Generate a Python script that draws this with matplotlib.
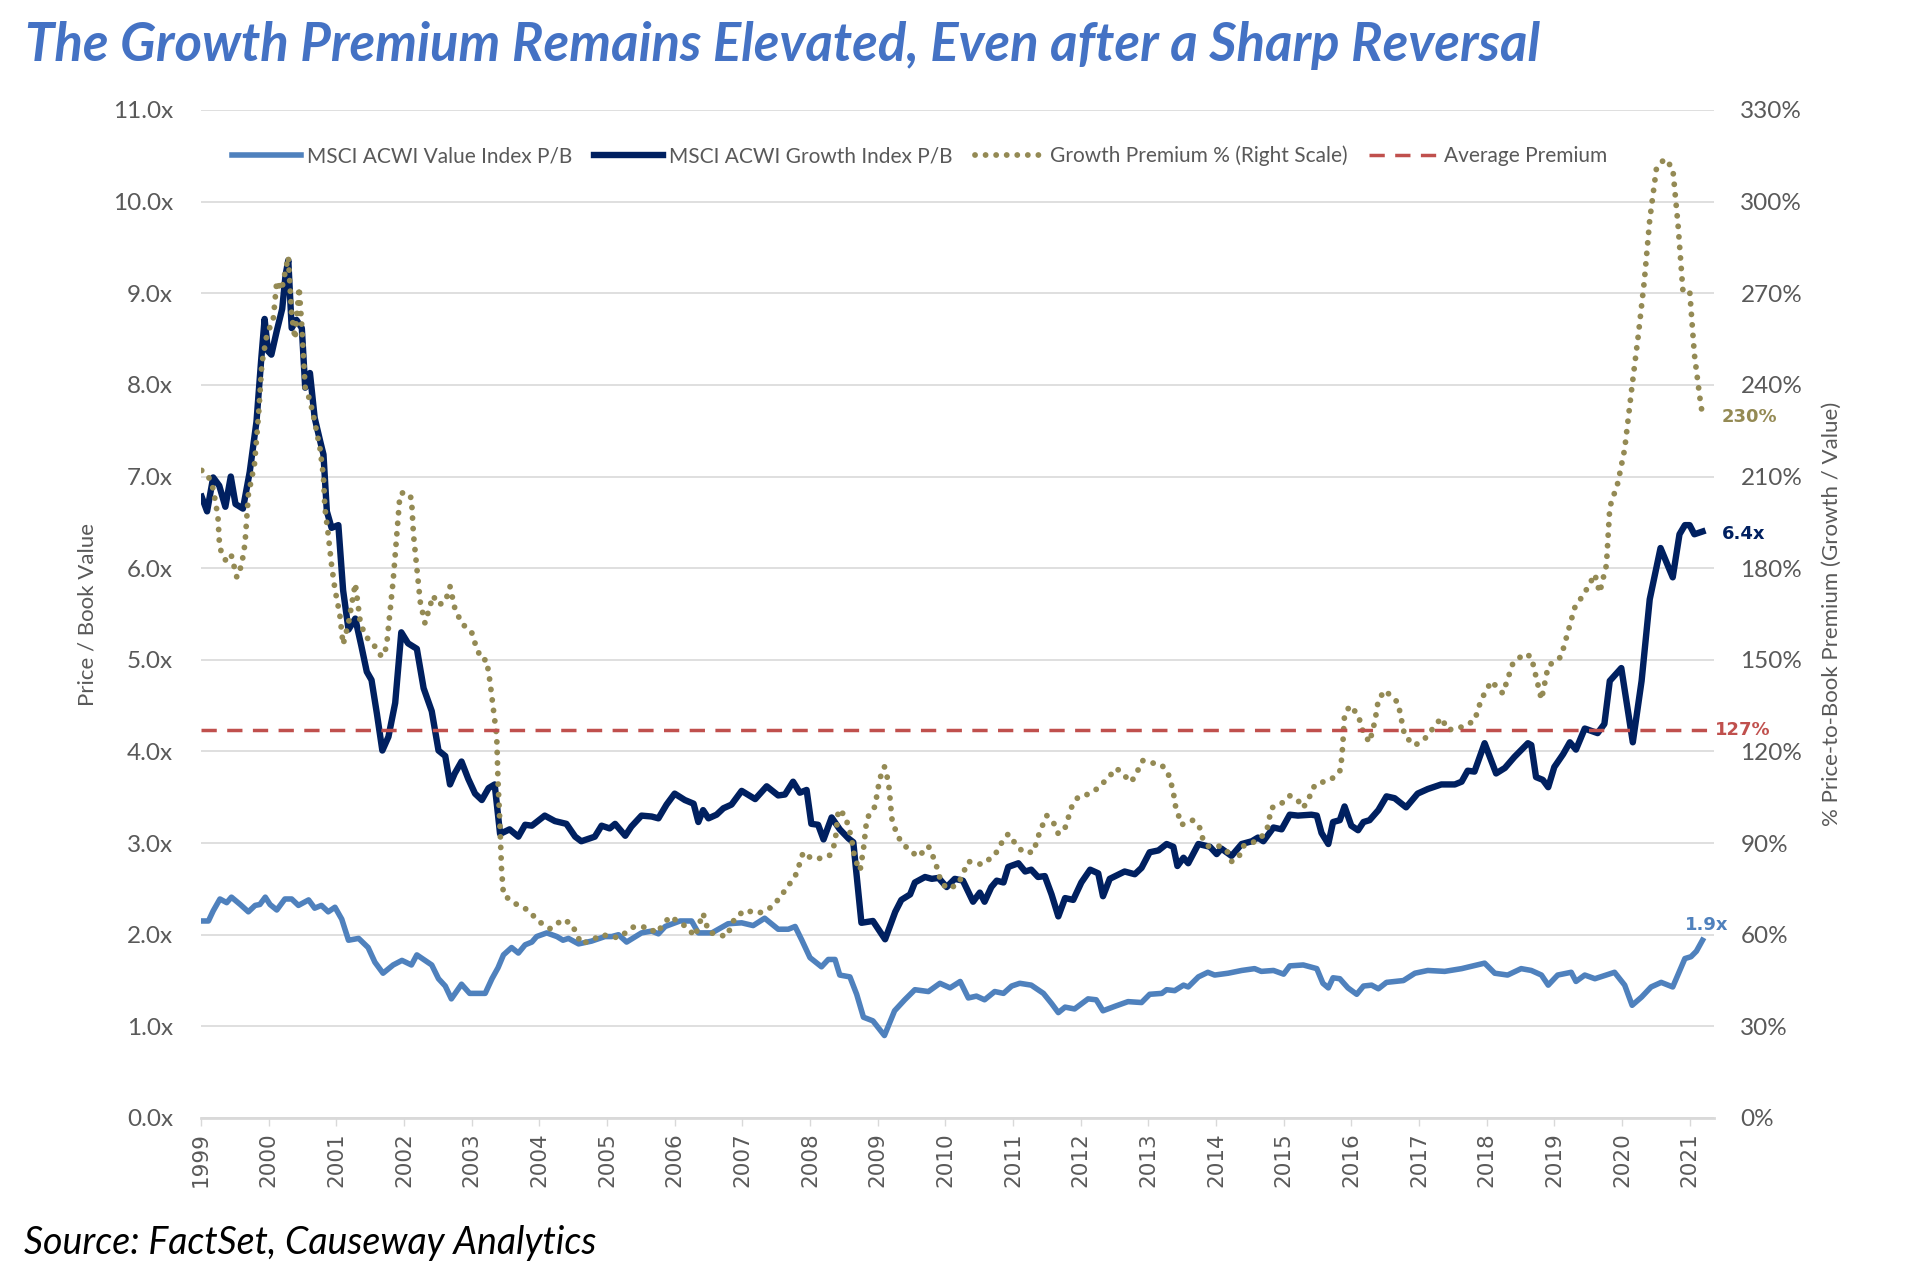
import matplotlib.pyplot as plt

# colours taken from the chart
GROWTH_C = '#002060'
VALUE_C = '#4F81BD'
PREM_C = '#948A54'
AVG_C = '#C0504D'
GREY = '#595959'
GRID_C = '#D9D9D9'

title = 'The Growth Premium Remains Elevated, Even after a Sharp Reversal'
source = 'Source: FactSet, Causeway Analytics'

years = list(range(1999, 2022))
left_ticks = list(range(0, 12))
right_ticks = list(range(0, 331, 30))
avg_premium = 127

# (decimal year, P/B)
growth_pb = [
    (1999.01, 6.78), (1999.09, 6.62), (1999.18, 6.99), (1999.27, 6.90), (1999.36, 6.67),
    (1999.44, 7.00), (1999.51, 6.70), (1999.62, 6.65), (1999.72, 7.05), (1999.82, 7.60),
    (1999.89, 8.28), (1999.94, 8.72), (1999.99, 8.37), (2000.04, 8.33), (2000.12, 8.59),
    (2000.20, 8.83), (2000.25, 9.20), (2000.29, 9.36), (2000.34, 8.62), (2000.41, 8.71),
    (2000.49, 8.62), (2000.54, 7.97), (2000.61, 8.13), (2000.68, 7.64), (2000.76, 7.39),
    (2000.81, 7.24), (2000.86, 6.62), (2000.93, 6.44), (2001.03, 6.47), (2001.10, 5.76),
    (2001.18, 5.33), (2001.28, 5.45), (2001.37, 5.15), (2001.45, 4.87), (2001.52, 4.78),
    (2001.60, 4.41), (2001.68, 4.01), (2001.77, 4.16), (2001.87, 4.53), (2001.96, 5.30),
    (2002.06, 5.18), (2002.19, 5.12), (2002.29, 4.69), (2002.41, 4.44), (2002.51, 4.01),
    (2002.61, 3.95), (2002.68, 3.64), (2002.75, 3.76), (2002.85, 3.89), (2002.95, 3.70),
    (2003.05, 3.54), (2003.15, 3.47), (2003.25, 3.60), (2003.34, 3.64), (2003.42, 3.10),
    (2003.56, 3.15), (2003.69, 3.07), (2003.79, 3.20), (2003.89, 3.19), (2004.08, 3.30),
    (2004.23, 3.24), (2004.40, 3.21), (2004.53, 3.07), (2004.62, 3.02), (2004.82, 3.07),
    (2004.92, 3.19), (2005.04, 3.16), (2005.12, 3.21), (2005.27, 3.08), (2005.36, 3.18),
    (2005.51, 3.30), (2005.66, 3.29), (2005.76, 3.27), (2005.88, 3.42), (2006.00, 3.54),
    (2006.15, 3.47), (2006.28, 3.43), (2006.35, 3.23), (2006.42, 3.36), (2006.50, 3.27),
    (2006.62, 3.31), (2006.72, 3.38), (2006.84, 3.42), (2006.99, 3.57), (2007.19, 3.48),
    (2007.36, 3.62), (2007.53, 3.52), (2007.63, 3.53), (2007.75, 3.67), (2007.85, 3.55),
    (2007.95, 3.58), (2008.02, 3.21), (2008.12, 3.20), (2008.20, 3.04), (2008.32, 3.28),
    (2008.44, 3.15), (2008.57, 3.05), (2008.64, 3.01), (2008.76, 2.13), (2008.93, 2.15),
    (2009.11, 1.95), (2009.26, 2.25), (2009.35, 2.38), (2009.48, 2.44), (2009.55, 2.57),
    (2009.70, 2.63), (2009.80, 2.61), (2009.90, 2.62), (2010.02, 2.52), (2010.14, 2.61),
    (2010.26, 2.59), (2010.41, 2.36), (2010.51, 2.46), (2010.58, 2.36), (2010.68, 2.52),
    (2010.76, 2.59), (2010.86, 2.57), (2010.93, 2.74), (2011.08, 2.78), (2011.18, 2.69),
    (2011.27, 2.71), (2011.37, 2.63), (2011.47, 2.64), (2011.57, 2.44), (2011.67, 2.20),
    (2011.77, 2.40), (2011.89, 2.38), (2012.01, 2.57), (2012.14, 2.71), (2012.26, 2.67),
    (2012.33, 2.42), (2012.43, 2.61), (2012.65, 2.69), (2012.80, 2.66), (2012.90, 2.73),
    (2013.02, 2.90), (2013.15, 2.92), (2013.27, 2.99), (2013.37, 2.96), (2013.43, 2.75),
    (2013.52, 2.84), (2013.59, 2.78), (2013.74, 2.99), (2013.91, 2.96), (2014.01, 2.88),
    (2014.08, 2.94), (2014.23, 2.86), (2014.38, 2.99), (2014.53, 3.02), (2014.62, 3.06),
    (2014.70, 3.02), (2014.77, 3.09), (2014.85, 3.17), (2014.97, 3.15), (2015.09, 3.31),
    (2015.21, 3.30), (2015.41, 3.31), (2015.49, 3.30), (2015.56, 3.11), (2015.66, 2.99),
    (2015.73, 3.23), (2015.83, 3.25), (2015.90, 3.40), (2016.00, 3.19), (2016.10, 3.14),
    (2016.18, 3.23), (2016.27, 3.25), (2016.40, 3.36), (2016.52, 3.51), (2016.64, 3.49),
    (2016.81, 3.39), (2016.98, 3.54), (2017.13, 3.59), (2017.33, 3.64), (2017.53, 3.64),
    (2017.63, 3.67), (2017.72, 3.79), (2017.82, 3.78), (2017.97, 4.09), (2018.14, 3.76),
    (2018.27, 3.82), (2018.41, 3.94), (2018.61, 4.09), (2018.66, 4.07), (2018.73, 3.72),
    (2018.83, 3.69), (2018.91, 3.61), (2019.00, 3.83), (2019.13, 3.97), (2019.23, 4.10),
    (2019.32, 4.02), (2019.45, 4.25), (2019.64, 4.20), (2019.74, 4.30), (2019.82, 4.77),
    (2019.99, 4.91), (2020.09, 4.43), (2020.16, 4.10), (2020.29, 4.77), (2020.41, 5.66),
    (2020.57, 6.22), (2020.75, 5.90), (2020.85, 6.37), (2020.93, 6.47), (2021.00, 6.47),
    (2021.07, 6.37), (2021.19, 6.40),
]

value_pb = [
    (1999.01, 2.15), (1999.11, 2.15), (1999.18, 2.26), (1999.28, 2.39), (1999.38, 2.35),
    (1999.45, 2.41), (1999.58, 2.33), (1999.70, 2.25), (1999.80, 2.32), (1999.87, 2.33),
    (1999.95, 2.41), (2000.02, 2.33), (2000.12, 2.27), (2000.24, 2.39), (2000.34, 2.39),
    (2000.44, 2.32), (2000.59, 2.38), (2000.68, 2.29), (2000.78, 2.32), (2000.88, 2.25),
    (2000.98, 2.30), (2001.08, 2.17), (2001.18, 1.94), (2001.33, 1.96), (2001.47, 1.86),
    (2001.57, 1.70), (2001.69, 1.58), (2001.84, 1.67), (2001.97, 1.72), (2002.11, 1.67),
    (2002.19, 1.78), (2002.31, 1.72), (2002.41, 1.67), (2002.51, 1.52), (2002.61, 1.44),
    (2002.70, 1.30), (2002.85, 1.46), (2002.97, 1.36), (2003.10, 1.36), (2003.20, 1.36),
    (2003.30, 1.52), (2003.39, 1.64), (2003.47, 1.78), (2003.59, 1.86), (2003.69, 1.80),
    (2003.79, 1.89), (2003.89, 1.92), (2003.96, 1.98), (2004.11, 2.02), (2004.26, 1.98),
    (2004.35, 1.94), (2004.43, 1.96), (2004.58, 1.90), (2004.77, 1.93), (2004.97, 1.98),
    (2005.07, 1.98), (2005.17, 2.00), (2005.29, 1.92), (2005.51, 2.02), (2005.66, 2.04),
    (2005.76, 2.01), (2005.86, 2.09), (2006.08, 2.15), (2006.25, 2.15), (2006.35, 2.02),
    (2006.55, 2.02), (2006.79, 2.12), (2006.99, 2.13), (2007.16, 2.10), (2007.33, 2.18),
    (2007.53, 2.06), (2007.68, 2.06), (2007.78, 2.09), (2007.88, 1.94), (2008.00, 1.75),
    (2008.17, 1.65), (2008.27, 1.73), (2008.37, 1.73), (2008.44, 1.56), (2008.59, 1.54),
    (2008.69, 1.35), (2008.79, 1.10), (2008.93, 1.06), (2009.10, 0.90), (2009.25, 1.17),
    (2009.40, 1.29), (2009.55, 1.40), (2009.75, 1.38), (2009.92, 1.47), (2010.07, 1.42),
    (2010.22, 1.49), (2010.34, 1.31), (2010.46, 1.33), (2010.58, 1.29), (2010.73, 1.38),
    (2010.86, 1.36), (2010.98, 1.44), (2011.10, 1.47), (2011.27, 1.45), (2011.45, 1.36),
    (2011.57, 1.25), (2011.67, 1.15), (2011.77, 1.21), (2011.91, 1.19), (2012.11, 1.30),
    (2012.23, 1.29), (2012.33, 1.17), (2012.51, 1.22), (2012.70, 1.27), (2012.90, 1.26),
    (2013.02, 1.35), (2013.20, 1.36), (2013.27, 1.40), (2013.39, 1.39), (2013.52, 1.45),
    (2013.59, 1.43), (2013.74, 1.54), (2013.88, 1.59), (2013.98, 1.56), (2014.18, 1.58),
    (2014.38, 1.61), (2014.57, 1.63), (2014.67, 1.60), (2014.85, 1.61), (2015.00, 1.57),
    (2015.09, 1.66), (2015.29, 1.67), (2015.49, 1.63), (2015.58, 1.47), (2015.66, 1.42),
    (2015.73, 1.53), (2015.83, 1.52), (2015.95, 1.42), (2016.08, 1.35), (2016.18, 1.44),
    (2016.30, 1.45), (2016.40, 1.41), (2016.52, 1.48), (2016.77, 1.50), (2016.94, 1.58),
    (2017.13, 1.61), (2017.38, 1.60), (2017.63, 1.63), (2017.97, 1.69), (2018.12, 1.58),
    (2018.31, 1.56), (2018.51, 1.63), (2018.66, 1.61), (2018.81, 1.56), (2018.91, 1.45),
    (2019.05, 1.56), (2019.25, 1.59), (2019.32, 1.49), (2019.45, 1.56), (2019.60, 1.52),
    (2019.89, 1.59), (2020.04, 1.45), (2020.15, 1.23), (2020.29, 1.32), (2020.43, 1.43),
    (2020.58, 1.48), (2020.75, 1.43), (2020.93, 1.74), (2021.02, 1.76), (2021.10, 1.82),
    (2021.19, 1.94),
]

# (decimal year, growth premium %)
premium_pct = [
    (1999.01, 212), (1999.11, 210), (1999.18, 206), (1999.25, 197), (1999.27, 189),
    (1999.30, 185), (1999.38, 182), (1999.45, 184), (1999.53, 177), (1999.60, 181),
    (1999.65, 188), (1999.70, 204), (1999.79, 214), (1999.85, 230), (1999.90, 247),
    (1999.97, 256), (2000.07, 262), (2000.12, 274), (2000.19, 271), (2000.29, 282),
    (2000.34, 263), (2000.39, 255), (2000.45, 272), (2000.49, 259), (2000.54, 239),
    (2000.61, 235), (2000.68, 228), (2000.76, 219), (2000.81, 210), (2000.83, 200),
    (2000.88, 191), (2000.93, 181), (2000.98, 173), (2001.05, 165), (2001.10, 155),
    (2001.18, 162), (2001.28, 175), (2001.35, 163), (2001.42, 158), (2001.55, 155),
    (2001.67, 151), (2001.74, 154), (2001.79, 165), (2001.84, 176), (2001.89, 190),
    (2001.94, 204), (2002.00, 205), (2002.11, 203), (2002.14, 191), (2002.19, 180),
    (2002.24, 169), (2002.31, 162), (2002.43, 171), (2002.51, 168), (2002.61, 169),
    (2002.68, 174), (2002.75, 167), (2002.85, 162), (2003.00, 159), (2003.07, 154),
    (2003.15, 150), (2003.22, 150), (2003.27, 143), (2003.32, 134), (2003.37, 125),
    (2003.39, 110), (2003.42, 95), (2003.44, 82), (2003.47, 73), (2003.66, 70),
    (2003.84, 68), (2003.98, 64.5), (2004.16, 62), (2004.35, 65), (2004.48, 63.5),
    (2004.62, 57), (2004.80, 58.5), (2004.92, 60), (2005.17, 59), (2005.39, 62.5),
    (2005.61, 62.5), (2005.73, 60.5), (2005.93, 66), (2006.18, 62.5), (2006.30, 59.5),
    (2006.42, 67), (2006.50, 61), (2006.62, 60), (2006.77, 59.5), (2006.89, 65.5),
    (2007.04, 68), (2007.24, 67), (2007.43, 69), (2007.53, 71.5), (2007.68, 76),
    (2007.80, 80), (2007.90, 87), (2008.02, 85), (2008.17, 85), (2008.29, 86),
    (2008.37, 90), (2008.42, 101), (2008.52, 99), (2008.61, 92), (2008.66, 85),
    (2008.74, 81), (2008.79, 88), (2008.84, 98), (2008.96, 102), (2009.03, 111),
    (2009.10, 115), (2009.16, 110), (2009.21, 98), (2009.26, 94.5), (2009.33, 91),
    (2009.45, 88), (2009.60, 85.5), (2009.75, 89), (2009.85, 84), (2009.94, 77),
    (2010.04, 75), (2010.19, 76.5), (2010.34, 84), (2010.54, 83), (2010.73, 86),
    (2010.83, 90), (2010.93, 93), (2011.03, 90), (2011.15, 87), (2011.30, 87),
    (2011.40, 94), (2011.50, 99), (2011.62, 96), (2011.67, 93), (2011.77, 95),
    (2011.87, 102), (2011.96, 105), (2012.11, 106), (2012.26, 108), (2012.43, 112),
    (2012.53, 114.5), (2012.65, 112), (2012.75, 110), (2012.85, 114), (2012.92, 117),
    (2013.20, 115.5), (2013.29, 113), (2013.37, 107), (2013.39, 103), (2013.49, 96),
    (2013.66, 97.5), (2013.76, 95), (2013.81, 91), (2013.88, 89), (2014.06, 89),
    (2014.16, 87.5), (2014.23, 84), (2014.33, 85), (2014.40, 89), (2014.53, 90),
    (2014.65, 91.5), (2014.75, 94), (2014.82, 101.5), (2014.97, 103), (2015.09, 105.5),
    (2015.21, 104), (2015.29, 101.5), (2015.39, 105.5), (2015.46, 109), (2015.58, 110),
    (2015.71, 111), (2015.83, 113.5), (2015.86, 118), (2015.88, 124.5), (2015.90, 132),
    (2015.98, 135), (2016.10, 132), (2016.18, 126), (2016.27, 123), (2016.35, 130),
    (2016.40, 137), (2016.50, 140), (2016.59, 138), (2016.69, 136), (2016.79, 125),
    (2016.94, 122), (2017.08, 124), (2017.33, 131), (2017.43, 127), (2017.63, 128),
    (2017.82, 130), (2017.92, 137), (2018.07, 143), (2018.24, 139), (2018.39, 149),
    (2018.56, 152), (2018.66, 151), (2018.81, 137), (2018.91, 148), (2019.10, 151),
    (2019.30, 167), (2019.45, 172), (2019.60, 178), (2019.67, 172), (2019.77, 181),
    (2019.82, 200), (2019.94, 208), (2020.04, 219), (2020.14, 238), (2020.24, 256),
    (2020.33, 274), (2020.41, 294), (2020.51, 311), (2020.63, 314), (2020.75, 311),
    (2020.83, 292), (2020.90, 271), (2021.00, 271), (2021.07, 250), (2021.15, 236),
    (2021.19, 230),
]

gx, gy = zip(*growth_pb)
vx, vy = zip(*value_pb)
px, py = zip(*premium_pct)

plt.rcParams['font.family'] = 'Lato'

W, H = 1911, 1271
fig = plt.figure(figsize=(W / 100, H / 100), dpi=100)
ax = fig.add_axes([201 / W, 1 - 1118 / H, (1714 - 201) / W, (1118 - 110) / H])
ax2 = ax.twinx()

ax.plot(vx, vy, color=VALUE_C, lw=4.0, solid_joinstyle='round', zorder=3,
        label='MSCI ACWI Value Index P/B')
ax.plot(gx, gy, color=GROWTH_C, lw=4.6, solid_joinstyle='round', zorder=4,
        label='MSCI ACWI Growth Index P/B')
ax2.plot(px, py, color=PREM_C, lw=4.2, linestyle=(0, (0.01, 1.8)),
         dash_capstyle='round', label='Growth Premium % (Right Scale)')
ax2.axhline(avg_premium, color=AVG_C, lw=2.5, linestyle=(0, (4.4, 3.0)),
            label='Average Premium')

ax.set_xlim(1999.0, 2021.36)
ax.set_ylim(0, 11)
ax2.set_ylim(0, 330)

ax.set_yticks(left_ticks)
ax.set_yticklabels([f'{v:.1f}x' for v in left_ticks])
ax2.set_yticks(right_ticks)
ax2.set_yticklabels([f'{v}%' for v in right_ticks])
ax.tick_params(axis='y', length=0, pad=20, labelsize=17.5, labelcolor=GREY)
ax2.tick_params(axis='y', length=0, pad=19, labelsize=17.5, labelcolor=GREY)

ax.set_xticks(years)
ax.set_xticklabels([str(y) for y in years], rotation=90, family='DejaVu Sans',
                   fontsize=15.5, color=GREY)
ax.tick_params(axis='x', length=6, width=1, color=GRID_C, pad=4)

ax.grid(axis='y', color=GRID_C, lw=1.2)
ax.set_axisbelow(True)
for a in (ax, ax2):
    for s in a.spines.values():
        s.set_visible(False)
ax.spines['bottom'].set_visible(True)
ax.spines['bottom'].set_color(GRID_C)
ax.spines['bottom'].set_linewidth(2)

fig.text(88 / W, 1 - 614 / H, 'Price / Book Value', rotation=90, ha='center',
         va='center', fontsize=16, color=GREY)
fig.text(1832 / W, 1 - 614 / H, '% Price-to-Book Premium (Growth / Value)',
         rotation=90, ha='center', va='center', fontsize=16, color=GREY)

# end-of-series labels
ax2.annotate(f'{py[-1]:.0f}%', xy=(px[-1], py[-1]), xytext=(14, -1),
             textcoords='offset points', ha='left', va='center', color=PREM_C,
             fontweight='bold', fontsize=13, family='DejaVu Sans')
ax.annotate(f'{gy[-1]:.1f}x', xy=(gx[-1], gy[-1]), xytext=(14, -1.5),
            textcoords='offset points', ha='left', va='center', color=GROWTH_C,
            fontweight='bold', fontsize=13, family='DejaVu Sans')
ax.annotate(f'{vy[-1]:.1f}x', xy=(vx[-1], vy[-1]), xytext=(3, 11),
            textcoords='offset points', ha='center', va='center', color=VALUE_C,
            fontweight='bold', fontsize=13, family='DejaVu Sans')
ax2.annotate(f'{avg_premium}%', xy=(1, avg_premium), xycoords=('axes fraction', 'data'),
             xytext=(1, 0), textcoords='offset points', ha='left', va='center',
             color=AVG_C, fontweight='bold', fontsize=13, family='DejaVu Sans')

h1, l1 = ax.get_legend_handles_labels()
h2, l2 = ax2.get_legend_handles_labels()
fig.legend(h1 + h2, l1 + l2, loc='center left', bbox_to_anchor=(232 / W, 1 - 156 / H),
           ncol=4, frameon=False, fontsize=15, labelcolor=GREY, handlelength=3.3,
           handletextpad=0.3, columnspacing=1.05, borderpad=0, borderaxespad=0)

fig.text(25 / W, 1 - 45 / H, title, fontsize=38, fontweight='bold', fontstyle='italic',
         color='#4472C4', ha='left', va='center')
fig.text(24 / W, 1 - 1243 / H, source, fontsize=27, fontstyle='italic',
         color='black', ha='left', va='center')

fig.savefig('out.png', dpi=100)
